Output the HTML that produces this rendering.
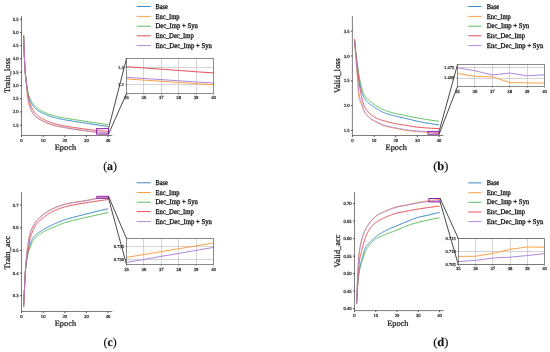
<!DOCTYPE html>
<html lang="en">
<head>
<meta charset="utf-8">
<title>Training and validation curves</title>
<style>
html,body{margin:0;padding:0;background:#fff;}
body{width:550px;height:352px;overflow:hidden;}
svg{display:block;}
text{font-family:"Liberation Serif",serif;fill:#111;stroke:#111;stroke-width:0.22px;text-rendering:geometricPrecision;}
.tk{font-size:4.7px;stroke-width:0.2px;fill:#222;stroke:#222;}
.ti{font-size:4.5px;}
.lab{font-size:8.2px;}
.lg{font-size:7.4px;stroke-width:0.3px;}
.cap{font-size:12px;stroke-width:0.15px;}
</style>
</head>
<body>
<svg width="550" height="352" viewBox="0 0 550 352">
<rect width="550" height="352" fill="#fff"/>
<g>
<polyline points="23.66,35.63 23.72,37.51 23.77,39.36 23.82,41.17 23.88,42.96 23.93,44.72 23.99,46.45 24.05,48.15 24.11,49.81 24.17,51.45 24.23,53.05 24.29,54.62 24.36,56.16 24.43,57.67 24.5,59.14 24.57,60.59 24.64,62 24.71,63.37 24.79,64.72 24.86,66.03 24.94,67.3 25.02,68.54 25.11,69.75 25.19,70.93 25.28,72.06 25.37,73.16 25.46,74.21 25.55,75.21 25.65,76.17 25.74,77.1 25.84,78 25.94,78.87 26.05,79.74 26.16,80.59 26.26,81.43 26.38,82.28 26.49,83.13 26.61,84 26.73,84.89 26.85,85.8 26.98,86.74 27.1,87.72 27.24,88.7 27.37,89.67 27.51,90.62 27.65,91.53 27.79,92.38 27.94,93.15 28.09,93.84 28.25,94.49 28.41,95.1 28.57,95.67 28.73,96.23 28.9,96.76 29.08,97.27 29.26,97.78 29.44,98.28 29.62,98.78 29.81,99.29 30.01,99.8 30.21,100.31 30.41,100.81 30.62,101.31 30.84,101.81 31.06,102.29 31.28,102.76 31.51,103.22 31.75,103.67 31.99,104.1 32.23,104.51 32.48,104.91 32.74,105.3 33.01,105.67 33.28,106.04 33.55,106.4 33.84,106.76 34.12,107.1 34.42,107.44 34.72,107.77 35.03,108.09 35.35,108.4 35.68,108.71 36.01,109.02 36.35,109.31 36.7,109.6 37.06,109.88 37.42,110.16 37.8,110.43 38.18,110.69 38.57,110.94 38.97,111.19 39.38,111.44 39.8,111.68 40.23,111.92 40.67,112.16 41.12,112.4 41.58,112.64 42.05,112.87 42.53,113.11 43.03,113.35 43.53,113.59 44.05,113.83 44.58,114.07 45.12,114.31 45.67,114.55 46.24,114.79 46.82,115.03 47.42,115.26 48.02,115.5 48.65,115.73 49.28,115.96 49.94,116.19 50.6,116.42 51.29,116.64 51.99,116.86 52.7,117.07 53.43,117.29 54.18,117.49 54.95,117.69 55.74,117.89 56.54,118.08 57.36,118.27 58.2,118.45 59.07,118.64 59.95,118.82 60.85,119 61.77,119.18 62.72,119.37 63.69,119.55 64.68,119.74 65.69,119.94 66.73,120.12 67.79,120.31 68.87,120.5 69.99,120.69 71.12,120.87 72.29,121.06 73.48,121.25 74.7,121.44 75.95,121.63 77.23,121.82 78.54,122.02 79.88,122.22 81.25,122.43 82.65,122.64 84.08,122.85 85.55,123.08 87.06,123.3 88.59,123.54 90.17,123.78 91.78,124.03 93.43,124.29 95.12,124.55 96.85,124.82 98.61,125.09 100.42,125.37 102.28,125.65 104.17,125.94 106.11,126.23 108.1,126.53" fill="none" stroke="#3585c5" stroke-width="0.95" stroke-linejoin="round"/>
<polyline points="23.66,35.1 23.72,37.09 23.77,39.05 23.82,40.98 23.88,42.87 23.93,44.73 23.99,46.55 24.05,48.35 24.11,50.1 24.17,51.83 24.23,53.52 24.29,55.18 24.36,56.8 24.43,58.39 24.5,59.94 24.57,61.46 24.64,62.95 24.71,64.4 24.79,65.81 24.86,67.19 24.94,68.54 25.02,69.85 25.11,71.12 25.19,72.36 25.28,73.53 25.37,74.63 25.46,75.66 25.55,76.65 25.65,77.61 25.74,78.54 25.84,79.47 25.94,80.4 26.05,81.34 26.16,82.32 26.26,83.34 26.38,84.42 26.49,85.57 26.61,86.85 26.73,88.27 26.85,89.78 26.98,91.34 27.1,92.91 27.24,94.44 27.37,95.89 27.51,97.22 27.65,98.37 27.79,99.32 27.94,100.16 28.09,100.95 28.25,101.72 28.41,102.45 28.57,103.16 28.73,103.83 28.9,104.48 29.08,105.11 29.26,105.71 29.44,106.29 29.62,106.84 29.81,107.38 30.01,107.9 30.21,108.41 30.41,108.9 30.62,109.37 30.84,109.84 31.06,110.29 31.28,110.73 31.51,111.17 31.75,111.6 31.99,112.03 32.23,112.46 32.48,112.88 32.74,113.29 33.01,113.69 33.28,114.07 33.55,114.45 33.84,114.82 34.12,115.17 34.42,115.52 34.72,115.85 35.03,116.18 35.35,116.5 35.68,116.81 36.01,117.11 36.35,117.4 36.7,117.68 37.06,117.96 37.42,118.22 37.8,118.47 38.18,118.72 38.57,118.96 38.97,119.19 39.38,119.42 39.8,119.64 40.23,119.86 40.67,120.09 41.12,120.31 41.58,120.53 42.05,120.75 42.53,120.98 43.03,121.22 43.53,121.46 44.05,121.7 44.58,121.95 45.12,122.21 45.67,122.46 46.24,122.72 46.82,122.97 47.42,123.23 48.02,123.48 48.65,123.73 49.28,123.98 49.94,124.23 50.6,124.47 51.29,124.7 51.99,124.93 52.7,125.15 53.43,125.37 54.18,125.57 54.95,125.77 55.74,125.96 56.54,126.14 57.36,126.32 58.2,126.49 59.07,126.66 59.95,126.83 60.85,127 61.77,127.17 62.72,127.34 63.69,127.51 64.68,127.69 65.69,127.88 66.73,128.07 67.79,128.26 68.87,128.45 69.99,128.64 71.12,128.83 72.29,129.03 73.48,129.22 74.7,129.42 75.95,129.62 77.23,129.81 78.54,130.01 79.88,130.2 81.25,130.4 82.65,130.59 84.08,130.78 85.55,130.97 87.06,131.16 88.59,131.35 90.17,131.54 91.78,131.72 93.43,131.91 95.12,132.09 96.85,132.26 98.61,132.43 100.42,132.59 102.28,132.75 104.17,132.91 106.11,133.06 108.1,133.2" fill="none" stroke="#ff9c3e" stroke-width="0.95" stroke-linejoin="round"/>
<polyline points="23.66,35.63 23.72,37.51 23.77,39.36 23.82,41.17 23.88,42.96 23.93,44.72 23.99,46.45 24.05,48.15 24.11,49.81 24.17,51.45 24.23,53.05 24.29,54.62 24.36,56.16 24.43,57.67 24.5,59.14 24.57,60.59 24.64,62 24.71,63.37 24.79,64.72 24.86,66.03 24.94,67.3 25.02,68.54 25.11,69.75 25.19,70.93 25.28,72.06 25.37,73.16 25.46,74.21 25.55,75.22 25.65,76.19 25.74,77.13 25.84,78.04 25.94,78.93 26.05,79.8 26.16,80.66 26.26,81.51 26.38,82.35 26.49,83.19 26.61,84.05 26.73,84.91 26.85,85.78 26.98,86.69 27.1,87.61 27.24,88.53 27.37,89.44 27.51,90.32 27.65,91.16 27.79,91.93 27.94,92.64 28.09,93.27 28.25,93.86 28.41,94.43 28.57,94.96 28.73,95.47 28.9,95.96 29.08,96.43 29.26,96.88 29.44,97.33 29.62,97.77 29.81,98.2 30.01,98.64 30.21,99.07 30.41,99.5 30.62,99.92 30.84,100.33 31.06,100.74 31.28,101.13 31.51,101.52 31.75,101.91 31.99,102.29 32.23,102.67 32.48,103.05 32.74,103.43 33.01,103.81 33.28,104.19 33.55,104.57 33.84,104.94 34.12,105.31 34.42,105.68 34.72,106.04 35.03,106.4 35.35,106.74 35.68,107.08 36.01,107.4 36.35,107.71 36.7,108.01 37.06,108.3 37.42,108.58 37.8,108.85 38.18,109.12 38.57,109.37 38.97,109.63 39.38,109.87 39.8,110.11 40.23,110.35 40.67,110.59 41.12,110.82 41.58,111.06 42.05,111.29 42.53,111.52 43.03,111.76 43.53,111.99 44.05,112.23 44.58,112.46 45.12,112.7 45.67,112.93 46.24,113.16 46.82,113.39 47.42,113.61 48.02,113.84 48.65,114.06 49.28,114.29 49.94,114.51 50.6,114.72 51.29,114.94 51.99,115.15 52.7,115.36 53.43,115.57 54.18,115.77 54.95,115.97 55.74,116.16 56.54,116.35 57.36,116.54 58.2,116.73 59.07,116.91 59.95,117.1 60.85,117.28 61.77,117.46 62.72,117.65 63.69,117.83 64.68,118.02 65.69,118.21 66.73,118.4 67.79,118.58 68.87,118.77 69.99,118.95 71.12,119.14 72.29,119.32 73.48,119.51 74.7,119.69 75.95,119.88 77.23,120.07 78.54,120.27 79.88,120.47 81.25,120.67 82.65,120.87 84.08,121.09 85.55,121.3 87.06,121.53 88.59,121.76 90.17,122 91.78,122.24 93.43,122.49 95.12,122.75 96.85,123.01 98.61,123.27 100.42,123.54 102.28,123.82 104.17,124.1 106.11,124.38 108.1,124.67" fill="none" stroke="#55bb55" stroke-width="0.95" stroke-linejoin="round"/>
<polyline points="23.66,36.43 23.72,38.28 23.77,40.11 23.82,41.9 23.88,43.67 23.93,45.41 23.99,47.11 24.05,48.79 24.11,50.44 24.17,52.05 24.23,53.64 24.29,55.2 24.36,56.72 24.43,58.22 24.5,59.68 24.57,61.11 24.64,62.51 24.71,63.89 24.79,65.22 24.86,66.53 24.94,67.81 25.02,69.05 25.11,70.26 25.19,71.44 25.28,72.59 25.37,73.7 25.46,74.75 25.55,75.75 25.65,76.72 25.74,77.65 25.84,78.55 25.94,79.43 26.05,80.31 26.16,81.17 26.26,82.05 26.38,82.93 26.49,83.83 26.61,84.75 26.73,85.71 26.85,86.7 26.98,87.71 27.1,88.74 27.24,89.77 27.37,90.8 27.51,91.81 27.65,92.81 27.79,93.76 27.94,94.68 28.09,95.55 28.25,96.39 28.41,97.2 28.57,97.98 28.73,98.71 28.9,99.4 29.08,100.07 29.26,100.72 29.44,101.37 29.62,101.99 29.81,102.61 30.01,103.21 30.21,103.8 30.41,104.37 30.62,104.94 30.84,105.49 31.06,106.03 31.28,106.57 31.51,107.09 31.75,107.6 31.99,108.1 32.23,108.59 32.48,109.07 32.74,109.55 33.01,110.02 33.28,110.48 33.55,110.94 33.84,111.39 34.12,111.82 34.42,112.25 34.72,112.67 35.03,113.07 35.35,113.47 35.68,113.85 36.01,114.21 36.35,114.57 36.7,114.91 37.06,115.23 37.42,115.55 37.8,115.85 38.18,116.14 38.57,116.42 38.97,116.7 39.38,116.97 39.8,117.23 40.23,117.49 40.67,117.75 41.12,118.01 41.58,118.26 42.05,118.52 42.53,118.78 43.03,119.04 43.53,119.3 44.05,119.57 44.58,119.84 45.12,120.1 45.67,120.37 46.24,120.63 46.82,120.89 47.42,121.16 48.02,121.42 48.65,121.67 49.28,121.93 49.94,122.18 50.6,122.43 51.29,122.67 51.99,122.91 52.7,123.14 53.43,123.37 54.18,123.59 54.95,123.81 55.74,124.02 56.54,124.23 57.36,124.43 58.2,124.63 59.07,124.82 59.95,125.02 60.85,125.21 61.77,125.4 62.72,125.59 63.69,125.78 64.68,125.97 65.69,126.16 66.73,126.35 67.79,126.54 68.87,126.73 69.99,126.92 71.12,127.11 72.29,127.29 73.48,127.48 74.7,127.66 75.95,127.85 77.23,128.03 78.54,128.21 79.88,128.39 81.25,128.58 82.65,128.76 84.08,128.94 85.55,129.12 87.06,129.3 88.59,129.48 90.17,129.66 91.78,129.84 93.43,130.02 95.12,130.19 96.85,130.37 98.61,130.54 100.42,130.71 102.28,130.88 104.17,131.04 106.11,131.21 108.1,131.37" fill="none" stroke="#e4474c" stroke-width="0.95" stroke-linejoin="round"/>
<polyline points="23.66,37.75 23.72,39.59 23.77,41.4 23.82,43.18 23.88,44.93 23.93,46.65 23.99,48.34 24.05,50 24.11,51.63 24.17,53.23 24.23,54.8 24.29,56.34 24.36,57.85 24.43,59.32 24.5,60.77 24.57,62.19 24.64,63.57 24.71,64.92 24.79,66.24 24.86,67.53 24.94,68.78 25.02,70 25.11,71.19 25.19,72.35 25.28,73.45 25.37,74.49 25.46,75.48 25.55,76.44 25.65,77.35 25.74,78.25 25.84,79.13 25.94,80 26.05,80.88 26.16,81.77 26.26,82.68 26.38,83.62 26.49,84.6 26.61,85.63 26.73,86.73 26.85,87.9 26.98,89.13 27.1,90.38 27.24,91.65 27.37,92.92 27.51,94.17 27.65,95.37 27.79,96.52 27.94,97.59 28.09,98.56 28.25,99.42 28.41,100.23 28.57,101.02 28.73,101.78 28.9,102.52 29.08,103.23 29.26,103.93 29.44,104.61 29.62,105.26 29.81,105.9 30.01,106.51 30.21,107.11 30.41,107.69 30.62,108.26 30.84,108.8 31.06,109.34 31.28,109.85 31.51,110.35 31.75,110.84 31.99,111.32 32.23,111.78 32.48,112.23 32.74,112.67 33.01,113.09 33.28,113.5 33.55,113.9 33.84,114.29 34.12,114.66 34.42,115.03 34.72,115.38 35.03,115.72 35.35,116.05 35.68,116.38 36.01,116.69 36.35,116.99 36.7,117.29 37.06,117.57 37.42,117.84 37.8,118.1 38.18,118.35 38.57,118.6 38.97,118.84 39.38,119.07 39.8,119.3 40.23,119.52 40.67,119.75 41.12,119.97 41.58,120.2 42.05,120.43 42.53,120.66 43.03,120.9 43.53,121.14 44.05,121.39 44.58,121.65 45.12,121.9 45.67,122.16 46.24,122.42 46.82,122.68 47.42,122.94 48.02,123.2 48.65,123.45 49.28,123.7 49.94,123.95 50.6,124.19 51.29,124.43 51.99,124.66 52.7,124.89 53.43,125.1 54.18,125.31 54.95,125.51 55.74,125.7 56.54,125.88 57.36,126.05 58.2,126.23 59.07,126.4 59.95,126.56 60.85,126.73 61.77,126.9 62.72,127.07 63.69,127.25 64.68,127.43 65.69,127.61 66.73,127.8 67.79,127.99 68.87,128.18 69.99,128.37 71.12,128.57 72.29,128.76 73.48,128.96 74.7,129.15 75.95,129.35 77.23,129.54 78.54,129.74 79.88,129.93 81.25,130.13 82.65,130.32 84.08,130.51 85.55,130.7 87.06,130.89 88.59,131.09 90.17,131.28 91.78,131.47 93.43,131.66 95.12,131.85 96.85,132.02 98.61,132.19 100.42,132.35 102.28,132.51 104.17,132.66 106.11,132.8 108.1,132.94" fill="none" stroke="#a982da" stroke-width="0.95" stroke-linejoin="round"/>
<path d="M21.5 16.1V135.5H112.3" fill="none" stroke="#262626" stroke-width="0.6"/>
<path d="M21.5 125.2h-1.5" stroke="#262626" stroke-width="0.8"/>
<text x="18.6" y="126.7" text-anchor="end" class="tk">1.5</text>
<path d="M21.5 111.95h-1.5" stroke="#262626" stroke-width="0.8"/>
<text x="18.6" y="113.45" text-anchor="end" class="tk">2.0</text>
<path d="M21.5 98.7h-1.5" stroke="#262626" stroke-width="0.8"/>
<text x="18.6" y="100.2" text-anchor="end" class="tk">2.5</text>
<path d="M21.5 85.45h-1.5" stroke="#262626" stroke-width="0.8"/>
<text x="18.6" y="86.95" text-anchor="end" class="tk">3.0</text>
<path d="M21.5 72.2h-1.5" stroke="#262626" stroke-width="0.8"/>
<text x="18.6" y="73.7" text-anchor="end" class="tk">3.5</text>
<path d="M21.5 58.95h-1.5" stroke="#262626" stroke-width="0.8"/>
<text x="18.6" y="60.45" text-anchor="end" class="tk">4.0</text>
<path d="M21.5 45.7h-1.5" stroke="#262626" stroke-width="0.8"/>
<text x="18.6" y="47.2" text-anchor="end" class="tk">4.5</text>
<path d="M21.5 32.45h-1.5" stroke="#262626" stroke-width="0.8"/>
<text x="18.6" y="33.95" text-anchor="end" class="tk">5.0</text>
<path d="M21.5 19.2h-1.5" stroke="#262626" stroke-width="0.8"/>
<text x="18.6" y="20.7" text-anchor="end" class="tk">5.5</text>
<path d="M21.5 135.5v1.5" stroke="#262626" stroke-width="0.8"/>
<text x="21.5" y="141.9" text-anchor="middle" class="tk">0</text>
<path d="M43.15 135.5v1.5" stroke="#262626" stroke-width="0.8"/>
<text x="43.15" y="141.9" text-anchor="middle" class="tk">10</text>
<path d="M64.8 135.5v1.5" stroke="#262626" stroke-width="0.8"/>
<text x="64.8" y="141.9" text-anchor="middle" class="tk">20</text>
<path d="M86.45 135.5v1.5" stroke="#262626" stroke-width="0.8"/>
<text x="86.45" y="141.9" text-anchor="middle" class="tk">30</text>
<path d="M108.1 135.5v1.5" stroke="#262626" stroke-width="0.8"/>
<text x="108.1" y="141.9" text-anchor="middle" class="tk">40</text>
<text x="65.4" y="150" text-anchor="middle" class="lab" textLength="21.3" lengthAdjust="spacingAndGlyphs">Epoch</text>
<text transform="translate(9.7 75.6) rotate(-90)" text-anchor="middle" class="lab" textLength="35" lengthAdjust="spacingAndGlyphs">Train_loss</text>
<rect x="96.6" y="128.6" width="11.9" height="5.5" fill="#f4b8e8" fill-opacity="0.25" stroke="#8a1aa0" stroke-width="0.95"/>
<path d="M108.5 128.6L126.5 58.5M108.5 134.1L126.5 93.5" stroke="#1c1c1c" stroke-width="0.8" fill="none"/>
<rect x="126.5" y="58.5" width="87" height="35" fill="#fff"/>
<path d="M143.5 58.5V93.5" stroke="#bcbcbc" stroke-width="0.65"/>
<path d="M161.5 58.5V93.5" stroke="#bcbcbc" stroke-width="0.65"/>
<path d="M178.5 58.5V93.5" stroke="#bcbcbc" stroke-width="0.65"/>
<path d="M196.5 58.5V93.5" stroke="#bcbcbc" stroke-width="0.65"/>
<path d="M126.5 67.5H213.5" stroke="#bcbcbc" stroke-width="0.65"/>
<path d="M126.5 84.5H213.5" stroke="#bcbcbc" stroke-width="0.65"/>
<clipPath id="clipa"><rect x="126.5" y="58.5" width="87" height="35"/></clipPath>
<polyline clip-path="url(#clipa)" points="126.5,78.93 143.9,80.12 161.3,81.24 178.7,82.43 196.1,83.54 213.5,84.74" fill="none" stroke="#ff9c3e" stroke-width="0.95" stroke-linejoin="round"/>
<polyline clip-path="url(#clipa)" points="126.5,66.7 143.9,67.98 161.3,69.18 178.7,70.46 196.1,71.75 213.5,72.94" fill="none" stroke="#e4474c" stroke-width="0.95" stroke-linejoin="round"/>
<polyline clip-path="url(#clipa)" points="126.5,77.39 143.9,78.5 161.3,79.61 178.7,80.81 196.1,81.92 213.5,83.03" fill="none" stroke="#a982da" stroke-width="0.95" stroke-linejoin="round"/>
<rect x="126.5" y="58.5" width="87" height="35" fill="none" stroke="#2e2e2e" stroke-width="0.55"/>
<path d="M126.5 67.3h-1.2" stroke="#262626" stroke-width="0.5"/>
<text x="123.7" y="68.6" text-anchor="end" class="tk ti">1.3</text>
<path d="M126.5 84.4h-1.2" stroke="#262626" stroke-width="0.5"/>
<text x="123.7" y="85.7" text-anchor="end" class="tk ti">1.2</text>
<path d="M126.5 93.5v1.2" stroke="#262626" stroke-width="0.5"/>
<text x="126.5" y="98.6" text-anchor="middle" class="tk">35</text>
<path d="M143.9 93.5v1.2" stroke="#262626" stroke-width="0.5"/>
<text x="143.9" y="98.6" text-anchor="middle" class="tk">36</text>
<path d="M161.3 93.5v1.2" stroke="#262626" stroke-width="0.5"/>
<text x="161.3" y="98.6" text-anchor="middle" class="tk">37</text>
<path d="M178.7 93.5v1.2" stroke="#262626" stroke-width="0.5"/>
<text x="178.7" y="98.6" text-anchor="middle" class="tk">38</text>
<path d="M196.1 93.5v1.2" stroke="#262626" stroke-width="0.5"/>
<text x="196.1" y="98.6" text-anchor="middle" class="tk">39</text>
<path d="M213.5 93.5v1.2" stroke="#262626" stroke-width="0.5"/>
<text x="213.5" y="98.6" text-anchor="middle" class="tk">40</text>
<path d="M136.7 6.5H150.8" stroke="#3585c5" stroke-width="0.95"/>
<text x="155.5" y="8.6" class="lg" textLength="12.4" lengthAdjust="spacingAndGlyphs">Base</text>
<path d="M136.7 16.4H150.8" stroke="#ff9c3e" stroke-width="0.95"/>
<text x="155.5" y="18.5" class="lg" textLength="24" lengthAdjust="spacingAndGlyphs">Enc_Imp</text>
<path d="M136.7 26.2H150.8" stroke="#55bb55" stroke-width="0.95"/>
<text x="155.5" y="28.3" class="lg" textLength="42.4" lengthAdjust="spacingAndGlyphs">Dec_Imp + Syn</text>
<path d="M136.7 35.8H150.8" stroke="#e4474c" stroke-width="0.95"/>
<text x="155.5" y="37.9" class="lg" textLength="38.3" lengthAdjust="spacingAndGlyphs">Enc_Dec_Imp</text>
<path d="M136.7 45.6H150.8" stroke="#a982da" stroke-width="0.95"/>
<text x="155.5" y="47.7" class="lg" textLength="56.5" lengthAdjust="spacingAndGlyphs">Enc_Dec_Imp + Syn</text>
<text x="103.15" y="169.9" class="cap" textLength="13.9" lengthAdjust="spacingAndGlyphs">(<tspan font-weight="bold">a</tspan>)</text>
</g>
<g>
<polyline points="354.57,39.63 354.62,40.22 354.67,40.82 354.72,41.42 354.78,42.04 354.83,42.67 354.89,43.31 354.95,43.95 355.01,44.61 355.07,45.28 355.13,45.95 355.2,46.64 355.26,47.33 355.33,48.03 355.4,48.74 355.47,49.46 355.54,50.18 355.61,50.91 355.69,51.65 355.77,52.4 355.85,53.16 355.93,53.92 356.01,54.69 356.09,55.46 356.18,56.25 356.27,57.03 356.36,57.83 356.45,58.63 356.55,59.43 356.65,60.24 356.75,61.06 356.85,61.9 356.95,62.76 357.06,63.64 357.17,64.54 357.28,65.46 357.4,66.4 357.51,67.35 357.63,68.32 357.76,69.29 357.88,70.27 358.01,71.25 358.14,72.24 358.28,73.23 358.41,74.21 358.56,75.2 358.7,76.17 358.85,77.14 359,78.1 359.15,79.04 359.31,79.97 359.48,80.88 359.64,81.78 359.81,82.7 359.98,83.62 360.16,84.56 360.35,85.51 360.53,86.45 360.72,87.39 360.92,88.31 361.12,89.21 361.32,90.1 361.53,90.95 361.75,91.77 361.97,92.55 362.19,93.28 362.42,93.97 362.66,94.59 362.9,95.17 363.14,95.73 363.39,96.26 363.65,96.77 363.92,97.26 364.19,97.73 364.46,98.19 364.75,98.63 365.04,99.06 365.33,99.48 365.64,99.88 365.95,100.28 366.27,100.67 366.59,101.05 366.92,101.43 367.26,101.8 367.61,102.18 367.97,102.54 368.34,102.89 368.71,103.23 369.09,103.56 369.48,103.89 369.89,104.2 370.3,104.52 370.72,104.82 371.15,105.13 371.59,105.44 372.04,105.74 372.5,106.05 372.97,106.36 373.45,106.68 373.95,107.01 374.45,107.34 374.97,107.68 375.5,108.03 376.04,108.38 376.6,108.73 377.16,109.09 377.75,109.45 378.34,109.81 378.95,110.17 379.57,110.52 380.21,110.87 380.86,111.22 381.53,111.56 382.21,111.89 382.91,112.21 383.63,112.53 384.36,112.83 385.11,113.12 385.88,113.4 386.67,113.67 387.47,113.93 388.3,114.18 389.14,114.43 390,114.67 390.88,114.91 391.79,115.15 392.71,115.39 393.66,115.64 394.62,115.88 395.62,116.13 396.63,116.39 397.67,116.64 398.73,116.88 399.82,117.13 400.93,117.38 402.07,117.63 403.24,117.89 404.43,118.16 405.65,118.43 406.9,118.72 408.18,119.03 409.49,119.35 410.83,119.68 412.2,120.02 413.6,120.36 415.04,120.7 416.51,121.03 418.02,121.35 419.56,121.66 421.13,121.97 422.75,122.28 424.4,122.59 426.09,122.89 427.82,123.19 429.59,123.49 431.4,123.79 433.25,124.08 435.15,124.37 437.09,124.66 439.08,124.94" fill="none" stroke="#3585c5" stroke-width="0.95" stroke-linejoin="round"/>
<polyline points="354.57,41.12 354.62,41.69 354.67,42.29 354.72,42.92 354.78,43.58 354.83,44.27 354.89,44.99 354.95,45.73 355.01,46.51 355.07,47.31 355.13,48.13 355.2,48.98 355.26,49.85 355.33,50.75 355.4,51.67 355.47,52.6 355.54,53.56 355.61,54.54 355.69,55.53 355.77,56.54 355.85,57.57 355.93,58.61 356.01,59.67 356.09,60.74 356.18,61.82 356.27,62.92 356.36,64.03 356.45,65.14 356.55,66.27 356.65,67.4 356.75,68.54 356.85,69.69 356.95,70.87 357.06,72.08 357.17,73.35 357.28,74.68 357.4,76.08 357.51,77.58 357.63,79.18 357.76,80.9 357.88,82.85 358.01,85.53 358.14,88.53 358.28,91.35 358.41,93.48 358.56,94.66 358.7,95.66 358.85,96.56 359,97.38 359.15,98.13 359.31,98.81 359.48,99.43 359.64,100 359.81,100.52 359.98,101.02 360.16,101.48 360.35,101.93 360.53,102.37 360.72,102.8 360.92,103.25 361.12,103.7 361.32,104.18 361.53,104.69 361.75,105.24 361.97,105.83 362.19,106.47 362.42,107.12 362.66,107.79 362.9,108.46 363.14,109.14 363.39,109.8 363.65,110.44 363.92,111.06 364.19,111.65 364.46,112.19 364.75,112.68 365.04,113.13 365.33,113.56 365.64,113.95 365.95,114.33 366.27,114.69 366.59,115.04 366.92,115.38 367.26,115.72 367.61,116.06 367.97,116.4 368.34,116.75 368.71,117.11 369.09,117.49 369.48,117.89 369.89,118.28 370.3,118.67 370.72,119.05 371.15,119.4 371.59,119.73 372.04,120.01 372.5,120.26 372.97,120.48 373.45,120.69 373.95,120.92 374.45,121.17 374.97,121.43 375.5,121.71 376.04,121.99 376.6,122.28 377.16,122.58 377.75,122.89 378.34,123.19 378.95,123.5 379.57,123.8 380.21,124.1 380.86,124.4 381.53,124.69 382.21,124.98 382.91,125.25 383.63,125.51 384.36,125.76 385.11,126 385.88,126.22 386.67,126.44 387.47,126.65 388.3,126.85 389.14,127.04 390,127.24 390.88,127.43 391.79,127.61 392.71,127.8 393.66,128 394.62,128.19 395.62,128.39 396.63,128.6 397.67,128.81 398.73,129.02 399.82,129.24 400.93,129.45 402.07,129.66 403.24,129.87 404.43,130.07 405.65,130.26 406.9,130.45 408.18,130.62 409.49,130.8 410.83,130.96 412.2,131.13 413.6,131.28 415.04,131.43 416.51,131.56 418.02,131.69 419.56,131.79 421.13,131.87 422.75,131.95 424.4,132.03 426.09,132.14 427.82,132.28 429.59,132.58 431.4,132.71 433.25,132.9 435.15,133.44 437.09,133.48 439.08,133.5" fill="none" stroke="#ff9c3e" stroke-width="0.95" stroke-linejoin="round"/>
<polyline points="354.57,39.63 354.62,40.17 354.67,40.71 354.72,41.27 354.78,41.83 354.83,42.41 354.89,43 354.95,43.59 355.01,44.2 355.07,44.82 355.13,45.44 355.2,46.08 355.26,46.72 355.33,47.37 355.4,48.03 355.47,48.7 355.54,49.38 355.61,50.07 355.69,50.76 355.77,51.46 355.85,52.16 355.93,52.88 356.01,53.6 356.09,54.32 356.18,55.06 356.27,55.79 356.36,56.54 356.45,57.29 356.55,58.04 356.65,58.8 356.75,59.57 356.85,60.35 356.95,61.16 357.06,62 357.17,62.85 357.28,63.73 357.4,64.61 357.51,65.51 357.63,66.42 357.76,67.34 357.88,68.26 358.01,69.18 358.14,70.1 358.28,71.01 358.41,71.91 358.56,72.81 358.7,73.69 358.85,74.55 359,75.39 359.15,76.22 359.31,77.05 359.48,77.87 359.64,78.68 359.81,79.49 359.98,80.3 360.16,81.12 360.35,81.96 360.53,82.82 360.72,83.71 360.92,84.62 361.12,85.53 361.32,86.44 361.53,87.35 361.75,88.23 361.97,89.1 362.19,89.93 362.42,90.71 362.66,91.45 362.9,92.13 363.14,92.74 363.39,93.29 363.65,93.8 363.92,94.29 364.19,94.74 364.46,95.18 364.75,95.59 365.04,95.99 365.33,96.38 365.64,96.75 365.95,97.12 366.27,97.48 366.59,97.84 366.92,98.21 367.26,98.58 367.61,98.95 367.97,99.33 368.34,99.7 368.71,100.07 369.09,100.43 369.48,100.79 369.89,101.15 370.3,101.5 370.72,101.85 371.15,102.2 371.59,102.54 372.04,102.89 372.5,103.24 372.97,103.58 373.45,103.93 373.95,104.27 374.45,104.62 374.97,104.97 375.5,105.33 376.04,105.68 376.6,106.04 377.16,106.4 377.75,106.75 378.34,107.11 378.95,107.46 379.57,107.81 380.21,108.16 380.86,108.5 381.53,108.83 382.21,109.16 382.91,109.48 383.63,109.79 384.36,110.1 385.11,110.39 385.88,110.68 386.67,110.96 387.47,111.23 388.3,111.5 389.14,111.76 390,112.02 390.88,112.27 391.79,112.52 392.71,112.77 393.66,113.02 394.62,113.26 395.62,113.51 396.63,113.75 397.67,113.98 398.73,114.21 399.82,114.44 400.93,114.66 402.07,114.88 403.24,115.11 404.43,115.35 405.65,115.58 406.9,115.83 408.18,116.09 409.49,116.36 410.83,116.63 412.2,116.9 413.6,117.18 415.04,117.46 416.51,117.74 418.02,118.01 419.56,118.28 421.13,118.56 422.75,118.83 424.4,119.11 426.09,119.38 427.82,119.66 429.59,119.94 431.4,120.21 433.25,120.49 435.15,120.77 437.09,121.04 439.08,121.32" fill="none" stroke="#55bb55" stroke-width="0.95" stroke-linejoin="round"/>
<polyline points="354.57,39.14 354.62,39.75 354.67,40.38 354.72,41.03 354.78,41.69 354.83,42.36 354.89,43.04 354.95,43.74 355.01,44.45 355.07,45.17 355.13,45.9 355.2,46.65 355.26,47.4 355.33,48.17 355.4,48.95 355.47,49.73 355.54,50.53 355.61,51.34 355.69,52.15 355.77,52.98 355.85,53.81 355.93,54.65 356.01,55.5 356.09,56.36 356.18,57.22 356.27,58.1 356.36,58.98 356.45,59.86 356.55,60.76 356.65,61.66 356.75,62.56 356.85,63.49 356.95,64.44 357.06,65.41 357.17,66.41 357.28,67.43 357.4,68.47 357.51,69.52 357.63,70.59 357.76,71.67 357.88,72.76 358.01,73.85 358.14,74.95 358.28,76.05 358.41,77.15 358.56,78.24 358.7,79.33 358.85,80.42 359,81.5 359.15,82.61 359.31,83.73 359.48,84.87 359.64,86.01 359.81,87.15 359.98,88.29 360.16,89.41 360.35,90.52 360.53,91.6 360.72,92.66 360.92,93.68 361.12,94.67 361.32,95.66 361.53,96.64 361.75,97.63 361.97,98.6 362.19,99.55 362.42,100.48 362.66,101.37 362.9,102.24 363.14,103.06 363.39,103.84 363.65,104.56 363.92,105.23 364.19,105.86 364.46,106.45 364.75,107.03 365.04,107.57 365.33,108.1 365.64,108.61 365.95,109.1 366.27,109.57 366.59,110.03 366.92,110.47 367.26,110.91 367.61,111.34 367.97,111.76 368.34,112.18 368.71,112.58 369.09,112.96 369.48,113.34 369.89,113.7 370.3,114.06 370.72,114.41 371.15,114.75 371.59,115.09 372.04,115.42 372.5,115.75 372.97,116.08 373.45,116.4 373.95,116.71 374.45,117.02 374.97,117.32 375.5,117.61 376.04,117.89 376.6,118.16 377.16,118.42 377.75,118.67 378.34,118.92 378.95,119.15 379.57,119.38 380.21,119.61 380.86,119.83 381.53,120.05 382.21,120.27 382.91,120.48 383.63,120.7 384.36,120.92 385.11,121.14 385.88,121.36 386.67,121.58 387.47,121.8 388.3,122.01 389.14,122.23 390,122.45 390.88,122.66 391.79,122.87 392.71,123.08 393.66,123.28 394.62,123.48 395.62,123.68 396.63,123.87 397.67,124.05 398.73,124.23 399.82,124.41 400.93,124.58 402.07,124.75 403.24,124.93 404.43,125.11 405.65,125.3 406.9,125.49 408.18,125.7 409.49,125.93 410.83,126.17 412.2,126.4 413.6,126.63 415.04,126.84 416.51,127.03 418.02,127.19 419.56,127.34 421.13,127.49 422.75,127.63 424.4,127.77 426.09,127.9 427.82,128.02 429.59,128.14 431.4,128.24 433.25,128.34 435.15,128.43 437.09,128.5 439.08,128.56" fill="none" stroke="#e4474c" stroke-width="0.95" stroke-linejoin="round"/>
<polyline points="354.57,41.12 354.62,41.56 354.67,42.05 354.72,42.57 354.78,43.13 354.83,43.73 354.89,44.36 354.95,45.03 355.01,45.73 355.07,46.46 355.13,47.22 355.2,48.01 355.26,48.83 355.33,49.67 355.4,50.54 355.47,51.44 355.54,52.36 355.61,53.3 355.69,54.26 355.77,55.25 355.85,56.25 355.93,57.27 356.01,58.31 356.09,59.36 356.18,60.42 356.27,61.5 356.36,62.59 356.45,63.69 356.55,64.81 356.65,65.92 356.75,67.05 356.85,68.26 356.95,69.58 357.06,70.98 357.17,72.45 357.28,73.97 357.4,75.51 357.51,77.06 357.63,78.59 357.76,80.08 357.88,81.54 358.01,83.05 358.14,84.61 358.28,86.19 358.41,87.75 358.56,89.26 358.7,90.7 358.85,92.02 359,93.21 359.15,94.22 359.31,95.12 359.48,95.96 359.64,96.75 359.81,97.49 359.98,98.19 360.16,98.86 360.35,99.5 360.53,100.11 360.72,100.72 360.92,101.32 361.12,101.93 361.32,102.54 361.53,103.17 361.75,103.82 361.97,104.51 362.19,105.23 362.42,105.98 362.66,106.74 362.9,107.52 363.14,108.29 363.39,109.05 363.65,109.78 363.92,110.48 364.19,111.13 364.46,111.72 364.75,112.24 365.04,112.7 365.33,113.13 365.64,113.53 365.95,113.9 366.27,114.26 366.59,114.6 366.92,114.93 367.26,115.26 367.61,115.58 367.97,115.92 368.34,116.26 368.71,116.62 369.09,117 369.48,117.39 369.89,117.78 370.3,118.17 370.72,118.55 371.15,118.91 371.59,119.23 372.04,119.52 372.5,119.76 372.97,119.98 373.45,120.19 373.95,120.42 374.45,120.67 374.97,120.94 375.5,121.21 376.04,121.5 376.6,121.79 377.16,122.09 377.75,122.39 378.34,122.69 378.95,123 379.57,123.3 380.21,123.61 380.86,123.9 381.53,124.2 382.21,124.48 382.91,124.75 383.63,125.02 384.36,125.27 385.11,125.5 385.88,125.73 386.67,125.95 387.47,126.15 388.3,126.36 389.14,126.55 390,126.75 390.88,126.94 391.79,127.13 392.71,127.32 393.66,127.51 394.62,127.7 395.62,127.9 396.63,128.09 397.67,128.3 398.73,128.5 399.82,128.7 400.93,128.9 402.07,129.1 403.24,129.29 404.43,129.48 405.65,129.67 406.9,129.85 408.18,130.03 409.49,130.22 410.83,130.4 412.2,130.57 413.6,130.74 415.04,130.89 416.51,131.02 418.02,131.14 419.56,131.22 421.13,131.28 422.75,131.34 424.4,131.4 426.09,131.49 427.82,131.61 429.59,131.84 431.4,132.28 433.25,132.46 435.15,132.3 437.09,132.61 439.08,132.49" fill="none" stroke="#a982da" stroke-width="0.95" stroke-linejoin="round"/>
<path d="M352.4 16.1V135.5H443.28" fill="none" stroke="#262626" stroke-width="0.6"/>
<path d="M352.4 130.4h-1.5" stroke="#262626" stroke-width="0.8"/>
<text x="349.5" y="131.9" text-anchor="end" class="tk">1.5</text>
<path d="M352.4 105.6h-1.5" stroke="#262626" stroke-width="0.8"/>
<text x="349.5" y="107.1" text-anchor="end" class="tk">2.0</text>
<path d="M352.4 80.8h-1.5" stroke="#262626" stroke-width="0.8"/>
<text x="349.5" y="82.3" text-anchor="end" class="tk">2.5</text>
<path d="M352.4 56h-1.5" stroke="#262626" stroke-width="0.8"/>
<text x="349.5" y="57.5" text-anchor="end" class="tk">3.0</text>
<path d="M352.4 31.2h-1.5" stroke="#262626" stroke-width="0.8"/>
<text x="349.5" y="32.7" text-anchor="end" class="tk">3.5</text>
<path d="M352.4 135.5v1.5" stroke="#262626" stroke-width="0.8"/>
<text x="352.4" y="141.9" text-anchor="middle" class="tk">0</text>
<path d="M374.07 135.5v1.5" stroke="#262626" stroke-width="0.8"/>
<text x="374.07" y="141.9" text-anchor="middle" class="tk">10</text>
<path d="M395.74 135.5v1.5" stroke="#262626" stroke-width="0.8"/>
<text x="395.74" y="141.9" text-anchor="middle" class="tk">20</text>
<path d="M417.41 135.5v1.5" stroke="#262626" stroke-width="0.8"/>
<text x="417.41" y="141.9" text-anchor="middle" class="tk">30</text>
<path d="M439.08 135.5v1.5" stroke="#262626" stroke-width="0.8"/>
<text x="439.08" y="141.9" text-anchor="middle" class="tk">40</text>
<text x="396.2" y="150" text-anchor="middle" class="lab" textLength="21.3" lengthAdjust="spacingAndGlyphs">Epoch</text>
<text transform="translate(339.9 75.6) rotate(-90)" text-anchor="middle" class="lab" textLength="35" lengthAdjust="spacingAndGlyphs">Valid_loss</text>
<rect x="428" y="131.4" width="11.1" height="2.8" fill="#f4b8e8" fill-opacity="0.25" stroke="#8a1aa0" stroke-width="0.95"/>
<path d="M439.1 131.4L457.5 64.6M439.1 134.2L457.5 86.5" stroke="#1c1c1c" stroke-width="0.8" fill="none"/>
<rect x="457.5" y="64.6" width="87" height="21.9" fill="#fff"/>
<path d="M474.5 64.6V86.5" stroke="#bcbcbc" stroke-width="0.65"/>
<path d="M492.5 64.6V86.5" stroke="#bcbcbc" stroke-width="0.65"/>
<path d="M509.5 64.6V86.5" stroke="#bcbcbc" stroke-width="0.65"/>
<path d="M527.5 64.6V86.5" stroke="#bcbcbc" stroke-width="0.65"/>
<path d="M457.5 67.5H544.5" stroke="#bcbcbc" stroke-width="0.65"/>
<path d="M457.5 78.5H544.5" stroke="#bcbcbc" stroke-width="0.65"/>
<clipPath id="clipb"><rect x="457.5" y="64.6" width="87" height="21.9"/></clipPath>
<polyline clip-path="url(#clipb)" points="457.5,73.39 474.9,76.41 492.3,76.78 509.7,82.49 527.1,82.9 544.5,83.1" fill="none" stroke="#ff9c3e" stroke-width="0.95" stroke-linejoin="round"/>
<polyline clip-path="url(#clipb)" points="457.5,67.8 474.9,70.78 492.3,74.98 509.7,72.98 527.1,75.8 544.5,74.82" fill="none" stroke="#a982da" stroke-width="0.95" stroke-linejoin="round"/>
<rect x="457.5" y="64.6" width="87" height="21.9" fill="none" stroke="#2e2e2e" stroke-width="0.55"/>
<path d="M457.5 67.8h-1.2" stroke="#262626" stroke-width="0.5"/>
<text x="454.2" y="69.1" text-anchor="end" class="tk ti">1.475</text>
<path d="M457.5 78h-1.2" stroke="#262626" stroke-width="0.5"/>
<text x="454.2" y="79.3" text-anchor="end" class="tk ti">1.450</text>
<path d="M457.5 86.5v1.2" stroke="#262626" stroke-width="0.5"/>
<text x="457.5" y="92.8" text-anchor="middle" class="tk">35</text>
<path d="M474.9 86.5v1.2" stroke="#262626" stroke-width="0.5"/>
<text x="474.9" y="92.8" text-anchor="middle" class="tk">36</text>
<path d="M492.3 86.5v1.2" stroke="#262626" stroke-width="0.5"/>
<text x="492.3" y="92.8" text-anchor="middle" class="tk">37</text>
<path d="M509.7 86.5v1.2" stroke="#262626" stroke-width="0.5"/>
<text x="509.7" y="92.8" text-anchor="middle" class="tk">38</text>
<path d="M527.1 86.5v1.2" stroke="#262626" stroke-width="0.5"/>
<text x="527.1" y="92.8" text-anchor="middle" class="tk">39</text>
<path d="M544.5 86.5v1.2" stroke="#262626" stroke-width="0.5"/>
<text x="544.5" y="92.8" text-anchor="middle" class="tk">40</text>
<path d="M468.3 6.5H481.4" stroke="#3585c5" stroke-width="0.95"/>
<text x="486.8" y="8.6" class="lg" textLength="12.4" lengthAdjust="spacingAndGlyphs">Base</text>
<path d="M468.3 16.4H481.4" stroke="#ff9c3e" stroke-width="0.95"/>
<text x="486.8" y="18.5" class="lg" textLength="24" lengthAdjust="spacingAndGlyphs">Enc_Imp</text>
<path d="M468.3 26.2H481.4" stroke="#55bb55" stroke-width="0.95"/>
<text x="486.8" y="28.3" class="lg" textLength="42.4" lengthAdjust="spacingAndGlyphs">Dec_Imp + Syn</text>
<path d="M468.3 35.8H481.4" stroke="#e4474c" stroke-width="0.95"/>
<text x="486.8" y="37.9" class="lg" textLength="38.3" lengthAdjust="spacingAndGlyphs">Enc_Dec_Imp</text>
<path d="M468.3 45.6H481.4" stroke="#a982da" stroke-width="0.95"/>
<text x="486.8" y="47.7" class="lg" textLength="56.5" lengthAdjust="spacingAndGlyphs">Enc_Dec_Imp + Syn</text>
<text x="433.15" y="169.9" class="cap" textLength="15.3" lengthAdjust="spacingAndGlyphs">(<tspan font-weight="bold">b</tspan>)</text>
</g>
<g>
<polyline points="23.66,304.76 23.72,303.79 23.77,302.78 23.82,301.74 23.88,300.66 23.93,299.56 23.99,298.42 24.05,297.26 24.11,296.07 24.17,294.85 24.23,293.61 24.29,292.35 24.36,291.07 24.43,289.77 24.5,288.44 24.57,287.09 24.64,285.63 24.71,284.07 24.79,282.45 24.86,280.8 24.94,279.15 25.02,277.54 25.11,275.98 25.19,274.53 25.28,273.2 25.37,271.98 25.46,270.82 25.55,269.7 25.65,268.62 25.74,267.58 25.84,266.57 25.94,265.6 26.05,264.66 26.16,263.74 26.26,262.84 26.38,261.97 26.49,261.12 26.61,260.3 26.73,259.49 26.85,258.7 26.98,257.93 27.1,257.18 27.24,256.44 27.37,255.71 27.51,255 27.65,254.29 27.79,253.6 27.94,252.91 28.09,252.23 28.25,251.56 28.41,250.92 28.57,250.28 28.73,249.66 28.9,249.05 29.08,248.44 29.26,247.84 29.44,247.24 29.62,246.64 29.81,246.03 30.01,245.43 30.21,244.81 30.41,244.17 30.62,243.52 30.84,242.85 31.06,242.19 31.28,241.53 31.51,240.9 31.75,240.3 31.99,239.75 32.23,239.25 32.48,238.8 32.74,238.37 33.01,237.97 33.28,237.59 33.55,237.22 33.84,236.87 34.12,236.53 34.42,236.21 34.72,235.89 35.03,235.58 35.35,235.27 35.68,234.97 36.01,234.66 36.35,234.36 36.7,234.05 37.06,233.75 37.42,233.46 37.8,233.17 38.18,232.89 38.57,232.61 38.97,232.34 39.38,232.07 39.8,231.81 40.23,231.54 40.67,231.27 41.12,231 41.58,230.72 42.05,230.44 42.53,230.16 43.03,229.86 43.53,229.56 44.05,229.26 44.58,228.95 45.12,228.64 45.67,228.32 46.24,228 46.82,227.68 47.42,227.36 48.02,227.03 48.65,226.7 49.28,226.37 49.94,226.04 50.6,225.71 51.29,225.37 51.99,225.04 52.7,224.7 53.43,224.37 54.18,224.03 54.95,223.69 55.74,223.35 56.54,223.01 57.36,222.66 58.2,222.31 59.07,221.96 59.95,221.61 60.85,221.26 61.77,220.9 62.72,220.56 63.69,220.21 64.68,219.86 65.69,219.52 66.73,219.19 67.79,218.86 68.87,218.53 69.99,218.2 71.12,217.88 72.29,217.56 73.48,217.23 74.7,216.91 75.95,216.58 77.23,216.25 78.54,215.92 79.88,215.58 81.25,215.23 82.65,214.88 84.08,214.52 85.55,214.16 87.06,213.78 88.59,213.4 90.17,213.01 91.78,212.61 93.43,212.2 95.12,211.79 96.85,211.37 98.61,210.94 100.42,210.51 102.28,210.07 104.17,209.62 106.11,209.18 108.1,208.72" fill="none" stroke="#3585c5" stroke-width="0.95" stroke-linejoin="round"/>
<polyline points="23.66,307.02 23.72,305.8 23.77,304.55 23.82,303.29 23.88,302 23.93,300.7 23.99,299.38 24.05,298.04 24.11,296.69 24.17,295.32 24.23,293.94 24.29,292.54 24.36,291.13 24.43,289.71 24.5,288.27 24.57,286.82 24.64,285.32 24.71,283.77 24.79,282.2 24.86,280.6 24.94,279 25.02,277.41 25.11,275.83 25.19,274.28 25.28,272.78 25.37,271.3 25.46,269.83 25.55,268.37 25.65,266.92 25.74,265.49 25.84,264.08 25.94,262.7 26.05,261.35 26.16,260.03 26.26,258.76 26.38,257.52 26.49,256.3 26.61,255.1 26.73,253.92 26.85,252.77 26.98,251.63 27.1,250.51 27.24,249.41 27.37,248.32 27.51,247.26 27.65,246.22 27.79,245.19 27.94,244.18 28.09,243.19 28.25,242.2 28.41,241.21 28.57,240.23 28.73,239.27 28.9,238.32 29.08,237.4 29.26,236.5 29.44,235.63 29.62,234.8 29.81,234.01 30.01,233.26 30.21,232.56 30.41,231.91 30.62,231.28 30.84,230.69 31.06,230.12 31.28,229.57 31.51,229.04 31.75,228.52 31.99,228 32.23,227.49 32.48,226.97 32.74,226.47 33.01,225.97 33.28,225.47 33.55,224.99 33.84,224.51 34.12,224.04 34.42,223.57 34.72,223.11 35.03,222.65 35.35,222.2 35.68,221.76 36.01,221.32 36.35,220.88 36.7,220.45 37.06,220.02 37.42,219.6 37.8,219.18 38.18,218.77 38.57,218.37 38.97,217.97 39.38,217.57 39.8,217.17 40.23,216.78 40.67,216.39 41.12,216.01 41.58,215.62 42.05,215.24 42.53,214.86 43.03,214.48 43.53,214.1 44.05,213.72 44.58,213.35 45.12,212.97 45.67,212.6 46.24,212.22 46.82,211.85 47.42,211.49 48.02,211.12 48.65,210.76 49.28,210.4 49.94,210.04 50.6,209.68 51.29,209.33 51.99,208.98 52.7,208.63 53.43,208.29 54.18,207.95 54.95,207.61 55.74,207.27 56.54,206.92 57.36,206.58 58.2,206.25 59.07,205.91 59.95,205.59 60.85,205.27 61.77,204.96 62.72,204.67 63.69,204.38 64.68,204.11 65.69,203.86 66.73,203.62 67.79,203.4 68.87,203.18 69.99,202.98 71.12,202.78 72.29,202.59 73.48,202.4 74.7,202.21 75.95,202.02 77.23,201.83 78.54,201.63 79.88,201.43 81.25,201.21 82.65,200.99 84.08,200.75 85.55,200.5 87.06,200.23 88.59,199.92 90.17,199.56 91.78,199.2 93.43,198.83 95.12,198.49 96.85,198.19 98.61,197.93 100.42,197.69 102.28,197.46 104.17,197.24 106.11,197.05 108.1,196.88" fill="none" stroke="#ff9c3e" stroke-width="0.95" stroke-linejoin="round"/>
<polyline points="23.66,304.76 23.72,303.79 23.77,302.78 23.82,301.74 23.88,300.66 23.93,299.56 23.99,298.42 24.05,297.26 24.11,296.07 24.17,294.85 24.23,293.61 24.29,292.35 24.36,291.07 24.43,289.77 24.5,288.44 24.57,287.09 24.64,285.61 24.71,284.03 24.79,282.38 24.86,280.71 24.94,279.04 25.02,277.42 25.11,275.87 25.19,274.45 25.28,273.19 25.37,272.07 25.46,271.02 25.55,270.04 25.65,269.1 25.74,268.2 25.84,267.34 25.94,266.5 26.05,265.66 26.16,264.82 26.26,263.98 26.38,263.11 26.49,262.25 26.61,261.37 26.73,260.5 26.85,259.64 26.98,258.79 27.1,257.95 27.24,257.14 27.37,256.35 27.51,255.59 27.65,254.87 27.79,254.19 27.94,253.56 28.09,252.97 28.25,252.42 28.41,251.91 28.57,251.43 28.73,250.97 28.9,250.53 29.08,250.09 29.26,249.66 29.44,249.22 29.62,248.78 29.81,248.32 30.01,247.84 30.21,247.33 30.41,246.78 30.62,246.2 30.84,245.61 31.06,245 31.28,244.4 31.51,243.81 31.75,243.23 31.99,242.69 32.23,242.19 32.48,241.74 32.74,241.3 33.01,240.87 33.28,240.46 33.55,240.06 33.84,239.68 34.12,239.3 34.42,238.93 34.72,238.58 35.03,238.23 35.35,237.88 35.68,237.54 36.01,237.21 36.35,236.87 36.7,236.54 37.06,236.22 37.42,235.9 37.8,235.59 38.18,235.29 38.57,234.99 38.97,234.69 39.38,234.4 39.8,234.11 40.23,233.83 40.67,233.55 41.12,233.26 41.58,232.98 42.05,232.7 42.53,232.41 43.03,232.13 43.53,231.84 44.05,231.55 44.58,231.27 45.12,230.99 45.67,230.71 46.24,230.44 46.82,230.16 47.42,229.89 48.02,229.61 48.65,229.34 49.28,229.06 49.94,228.77 50.6,228.49 51.29,228.2 51.99,227.9 52.7,227.6 53.43,227.3 54.18,226.98 54.95,226.66 55.74,226.32 56.54,225.98 57.36,225.63 58.2,225.27 59.07,224.91 59.95,224.55 60.85,224.19 61.77,223.84 62.72,223.49 63.69,223.14 64.68,222.81 65.69,222.48 66.73,222.16 67.79,221.85 68.87,221.54 69.99,221.24 71.12,220.94 72.29,220.64 73.48,220.34 74.7,220.04 75.95,219.75 77.23,219.44 78.54,219.14 79.88,218.83 81.25,218.52 82.65,218.2 84.08,217.87 85.55,217.54 87.06,217.19 88.59,216.84 90.17,216.48 91.78,216.12 93.43,215.74 95.12,215.37 96.85,214.98 98.61,214.59 100.42,214.2 102.28,213.8 104.17,213.39 106.11,212.99 108.1,212.57" fill="none" stroke="#55bb55" stroke-width="0.95" stroke-linejoin="round"/>
<polyline points="23.66,307.02 23.72,305.88 23.77,304.72 23.82,303.52 23.88,302.3 23.93,301.06 23.99,299.8 24.05,298.51 24.11,297.2 24.17,295.87 24.23,294.52 24.29,293.15 24.36,291.76 24.43,290.36 24.5,288.94 24.57,287.5 24.64,285.97 24.71,284.37 24.79,282.71 24.86,281.04 24.94,279.36 25.02,277.72 25.11,276.13 25.19,274.62 25.28,273.21 25.37,271.89 25.46,270.61 25.55,269.36 25.65,268.14 25.74,266.96 25.84,265.83 25.94,264.73 26.05,263.68 26.16,262.67 26.26,261.71 26.38,260.8 26.49,259.95 26.61,259.15 26.73,258.38 26.85,257.64 26.98,256.92 27.1,256.21 27.24,255.49 27.37,254.77 27.51,254.03 27.65,253.27 27.79,252.47 27.94,251.62 28.09,250.71 28.25,249.73 28.41,248.69 28.57,247.6 28.73,246.47 28.9,245.34 29.08,244.2 29.26,243.07 29.44,241.98 29.62,240.93 29.81,239.94 30.01,239.03 30.21,238.2 30.41,237.43 30.62,236.71 30.84,236.03 31.06,235.37 31.28,234.73 31.51,234.11 31.75,233.5 31.99,232.89 32.23,232.28 32.48,231.66 32.74,231.04 33.01,230.42 33.28,229.79 33.55,229.17 33.84,228.56 34.12,227.96 34.42,227.37 34.72,226.79 35.03,226.23 35.35,225.68 35.68,225.16 36.01,224.65 36.35,224.18 36.7,223.72 37.06,223.28 37.42,222.85 37.8,222.44 38.18,222.03 38.57,221.64 38.97,221.26 39.38,220.88 39.8,220.51 40.23,220.14 40.67,219.77 41.12,219.4 41.58,219.03 42.05,218.65 42.53,218.27 43.03,217.88 43.53,217.49 44.05,217.08 44.58,216.68 45.12,216.27 45.67,215.86 46.24,215.45 46.82,215.04 47.42,214.64 48.02,214.23 48.65,213.82 49.28,213.42 49.94,213.02 50.6,212.63 51.29,212.25 51.99,211.87 52.7,211.5 53.43,211.13 54.18,210.78 54.95,210.43 55.74,210.09 56.54,209.74 57.36,209.41 58.2,209.08 59.07,208.75 59.95,208.43 60.85,208.12 61.77,207.82 62.72,207.52 63.69,207.23 64.68,206.95 65.69,206.67 66.73,206.41 67.79,206.15 68.87,205.9 69.99,205.66 71.12,205.42 72.29,205.18 73.48,204.95 74.7,204.72 75.95,204.5 77.23,204.27 78.54,204.04 79.88,203.81 81.25,203.58 82.65,203.35 84.08,203.11 85.55,202.87 87.06,202.62 88.59,202.37 90.17,202.12 91.78,201.87 93.43,201.62 95.12,201.36 96.85,201.11 98.61,200.85 100.42,200.59 102.28,200.33 104.17,200.07 106.11,199.81 108.1,199.55" fill="none" stroke="#e4474c" stroke-width="0.95" stroke-linejoin="round"/>
<polyline points="23.66,307.02 23.72,305.81 23.77,304.58 23.82,303.32 23.88,302.05 23.93,300.76 23.99,299.46 24.05,298.14 24.11,296.8 24.17,295.45 24.23,294.08 24.29,292.7 24.36,291.31 24.43,289.91 24.5,288.49 24.57,287.06 24.64,285.57 24.71,284.05 24.79,282.5 24.86,280.93 24.94,279.35 25.02,277.78 25.11,276.23 25.19,274.71 25.28,273.23 25.37,271.78 25.46,270.33 25.55,268.9 25.65,267.47 25.74,266.07 25.84,264.69 25.94,263.33 26.05,262 26.16,260.7 26.26,259.44 26.38,258.21 26.49,257 26.61,255.8 26.73,254.62 26.85,253.46 26.98,252.32 27.1,251.2 27.24,250.1 27.37,249.01 27.51,247.95 27.65,246.9 27.79,245.87 27.94,244.86 28.09,243.87 28.25,242.88 28.41,241.89 28.57,240.91 28.73,239.95 28.9,239 29.08,238.08 29.26,237.18 29.44,236.31 29.62,235.48 29.81,234.69 30.01,233.94 30.21,233.24 30.41,232.59 30.62,231.97 30.84,231.37 31.06,230.81 31.28,230.26 31.51,229.73 31.75,229.21 31.99,228.69 32.23,228.17 32.48,227.65 32.74,227.13 33.01,226.61 33.28,226.11 33.55,225.6 33.84,225.1 34.12,224.61 34.42,224.12 34.72,223.64 35.03,223.17 35.35,222.7 35.68,222.24 36.01,221.79 36.35,221.34 36.7,220.9 37.06,220.47 37.42,220.04 37.8,219.63 38.18,219.21 38.57,218.81 38.97,218.41 39.38,218.01 39.8,217.62 40.23,217.23 40.67,216.85 41.12,216.46 41.58,216.08 42.05,215.7 42.53,215.32 43.03,214.93 43.53,214.55 44.05,214.17 44.58,213.79 45.12,213.4 45.67,213.02 46.24,212.64 46.82,212.26 47.42,211.89 48.02,211.51 48.65,211.14 49.28,210.77 49.94,210.41 50.6,210.05 51.29,209.69 51.99,209.33 52.7,208.98 53.43,208.63 54.18,208.29 54.95,207.95 55.74,207.6 56.54,207.26 57.36,206.92 58.2,206.58 59.07,206.25 59.95,205.92 60.85,205.61 61.77,205.3 62.72,205 63.69,204.72 64.68,204.45 65.69,204.2 66.73,203.96 67.79,203.73 68.87,203.52 69.99,203.31 71.12,203.11 72.29,202.92 73.48,202.73 74.7,202.54 75.95,202.35 77.23,202.15 78.54,201.96 79.88,201.75 81.25,201.54 82.65,201.32 84.08,201.09 85.55,200.84 87.06,200.57 88.59,200.27 90.17,199.94 91.78,199.59 93.43,199.24 95.12,198.92 96.85,198.62 98.61,198.36 100.42,198.11 102.28,197.88 104.17,197.66 106.11,197.45 108.1,197.26" fill="none" stroke="#a982da" stroke-width="0.95" stroke-linejoin="round"/>
<path d="M21.5 192V311.5H112.3" fill="none" stroke="#262626" stroke-width="0.6"/>
<path d="M21.5 295.7h-1.5" stroke="#262626" stroke-width="0.8"/>
<text x="18.6" y="297.2" text-anchor="end" class="tk">0.3</text>
<path d="M21.5 273.05h-1.5" stroke="#262626" stroke-width="0.8"/>
<text x="18.6" y="274.55" text-anchor="end" class="tk">0.4</text>
<path d="M21.5 250.4h-1.5" stroke="#262626" stroke-width="0.8"/>
<text x="18.6" y="251.9" text-anchor="end" class="tk">0.5</text>
<path d="M21.5 227.75h-1.5" stroke="#262626" stroke-width="0.8"/>
<text x="18.6" y="229.25" text-anchor="end" class="tk">0.6</text>
<path d="M21.5 205.1h-1.5" stroke="#262626" stroke-width="0.8"/>
<text x="18.6" y="206.6" text-anchor="end" class="tk">0.7</text>
<path d="M21.5 311.5v1.5" stroke="#262626" stroke-width="0.8"/>
<text x="21.5" y="317.9" text-anchor="middle" class="tk">0</text>
<path d="M43.15 311.5v1.5" stroke="#262626" stroke-width="0.8"/>
<text x="43.15" y="317.9" text-anchor="middle" class="tk">10</text>
<path d="M64.8 311.5v1.5" stroke="#262626" stroke-width="0.8"/>
<text x="64.8" y="317.9" text-anchor="middle" class="tk">20</text>
<path d="M86.45 311.5v1.5" stroke="#262626" stroke-width="0.8"/>
<text x="86.45" y="317.9" text-anchor="middle" class="tk">30</text>
<path d="M108.1 311.5v1.5" stroke="#262626" stroke-width="0.8"/>
<text x="108.1" y="317.9" text-anchor="middle" class="tk">40</text>
<text x="65.4" y="326.2" text-anchor="middle" class="lab" textLength="21.3" lengthAdjust="spacingAndGlyphs">Epoch</text>
<text transform="translate(9.8 252.65) rotate(-90)" text-anchor="middle" class="lab" textLength="33.6" lengthAdjust="spacingAndGlyphs">Train_acc</text>
<rect x="96.8" y="196.3" width="11.7" height="2" fill="#f4b8e8" fill-opacity="0.25" stroke="#8a1aa0" stroke-width="0.95"/>
<path d="M108.5 196.3L126.5 238.5M108.5 198.3L126.5 264.5" stroke="#1c1c1c" stroke-width="0.8" fill="none"/>
<rect x="126.5" y="238.5" width="87" height="26" fill="#fff"/>
<path d="M143.5 238.5V264.5" stroke="#bcbcbc" stroke-width="0.65"/>
<path d="M161.5 238.5V264.5" stroke="#bcbcbc" stroke-width="0.65"/>
<path d="M178.5 238.5V264.5" stroke="#bcbcbc" stroke-width="0.65"/>
<path d="M196.5 238.5V264.5" stroke="#bcbcbc" stroke-width="0.65"/>
<path d="M126.5 246.5H213.5" stroke="#bcbcbc" stroke-width="0.65"/>
<path d="M126.5 259.5H213.5" stroke="#bcbcbc" stroke-width="0.65"/>
<clipPath id="clipc"><rect x="126.5" y="238.5" width="87" height="26"/></clipPath>
<polyline clip-path="url(#clipc)" points="126.5,257.4 143.9,254.52 161.3,251.64 178.7,248.76 196.1,245.88 213.5,242.99" fill="none" stroke="#ff9c3e" stroke-width="0.95" stroke-linejoin="round"/>
<polyline clip-path="url(#clipc)" points="126.5,262.38 143.9,259.5 161.3,256.36 178.7,253.47 196.1,250.33 213.5,247.45" fill="none" stroke="#a982da" stroke-width="0.95" stroke-linejoin="round"/>
<rect x="126.5" y="238.5" width="87" height="26" fill="none" stroke="#2e2e2e" stroke-width="0.55"/>
<path d="M126.5 246.4h-1.2" stroke="#262626" stroke-width="0.5"/>
<text x="123.9" y="247.7" text-anchor="end" class="tk ti">0.735</text>
<path d="M126.5 259.5h-1.2" stroke="#262626" stroke-width="0.5"/>
<text x="123.9" y="260.8" text-anchor="end" class="tk ti">0.730</text>
<path d="M126.5 264.5v1.2" stroke="#262626" stroke-width="0.5"/>
<text x="126.5" y="270.8" text-anchor="middle" class="tk">35</text>
<path d="M143.9 264.5v1.2" stroke="#262626" stroke-width="0.5"/>
<text x="143.9" y="270.8" text-anchor="middle" class="tk">36</text>
<path d="M161.3 264.5v1.2" stroke="#262626" stroke-width="0.5"/>
<text x="161.3" y="270.8" text-anchor="middle" class="tk">37</text>
<path d="M178.7 264.5v1.2" stroke="#262626" stroke-width="0.5"/>
<text x="178.7" y="270.8" text-anchor="middle" class="tk">38</text>
<path d="M196.1 264.5v1.2" stroke="#262626" stroke-width="0.5"/>
<text x="196.1" y="270.8" text-anchor="middle" class="tk">39</text>
<path d="M213.5 264.5v1.2" stroke="#262626" stroke-width="0.5"/>
<text x="213.5" y="270.8" text-anchor="middle" class="tk">40</text>
<path d="M136.7 182.8H150.8" stroke="#3585c5" stroke-width="0.95"/>
<text x="155.5" y="184.9" class="lg" textLength="12.4" lengthAdjust="spacingAndGlyphs">Base</text>
<path d="M136.7 192.5H150.8" stroke="#ff9c3e" stroke-width="0.95"/>
<text x="155.5" y="194.6" class="lg" textLength="24" lengthAdjust="spacingAndGlyphs">Enc_Imp</text>
<path d="M136.7 202.2H150.8" stroke="#55bb55" stroke-width="0.95"/>
<text x="155.5" y="204.3" class="lg" textLength="42.4" lengthAdjust="spacingAndGlyphs">Dec_Imp + Syn</text>
<path d="M136.7 211.6H150.8" stroke="#e4474c" stroke-width="0.95"/>
<text x="155.5" y="213.7" class="lg" textLength="38.3" lengthAdjust="spacingAndGlyphs">Enc_Dec_Imp</text>
<path d="M136.7 221.6H150.8" stroke="#a982da" stroke-width="0.95"/>
<text x="155.5" y="223.7" class="lg" textLength="56.5" lengthAdjust="spacingAndGlyphs">Enc_Dec_Imp + Syn</text>
<text x="103.55" y="345.9" class="cap" textLength="13.1" lengthAdjust="spacingAndGlyphs">(<tspan font-weight="bold">c</tspan>)</text>
</g>
<g>
<polyline points="356.63,303.35 356.68,302.18 356.73,301.03 356.78,299.88 356.83,298.75 356.89,297.63 356.95,296.52 357,295.42 357.06,294.34 357.12,293.27 357.18,292.21 357.25,291.16 357.31,290.13 357.38,289.11 357.44,288.1 357.51,287.11 357.58,286.11 357.66,285.12 357.73,284.13 357.81,283.15 357.88,282.18 357.96,281.22 358.04,280.27 358.13,279.34 358.21,278.43 358.3,277.54 358.39,276.67 358.48,275.84 358.57,275.03 358.67,274.25 358.77,273.51 358.87,272.8 358.97,272.12 359.07,271.46 359.18,270.83 359.29,270.21 359.4,269.61 359.52,269.02 359.64,268.44 359.76,267.88 359.88,267.31 360.01,266.76 360.14,266.2 360.27,265.64 360.4,265.07 360.54,264.5 360.69,263.91 360.83,263.31 360.98,262.71 361.13,262.1 361.29,261.5 361.45,260.89 361.61,260.29 361.78,259.68 361.95,259.07 362.12,258.45 362.3,257.82 362.48,257.19 362.67,256.54 362.86,255.87 363.06,255.16 363.26,254.41 363.47,253.63 363.68,252.84 363.89,252.05 364.11,251.28 364.34,250.53 364.57,249.83 364.8,249.18 365.05,248.6 365.29,248.09 365.55,247.61 365.81,247.17 366.07,246.75 366.34,246.35 366.62,245.97 366.91,245.6 367.2,245.24 367.5,244.89 367.8,244.55 368.11,244.2 368.43,243.85 368.76,243.5 369.09,243.13 369.44,242.75 369.79,242.36 370.15,241.98 370.51,241.59 370.89,241.2 371.27,240.81 371.67,240.43 372.07,240.04 372.48,239.65 372.9,239.26 373.34,238.87 373.78,238.49 374.23,238.1 374.69,237.71 375.17,237.33 375.65,236.94 376.15,236.56 376.66,236.18 377.18,235.79 377.71,235.41 378.26,235.03 378.81,234.64 379.38,234.26 379.97,233.88 380.57,233.5 381.18,233.12 381.8,232.73 382.44,232.35 383.1,231.98 383.77,231.6 384.46,231.22 385.16,230.85 385.88,230.47 386.62,230.1 387.37,229.73 388.14,229.37 388.93,229.01 389.74,228.66 390.57,228.31 391.41,227.95 392.28,227.59 393.17,227.23 394.08,226.86 395,226.49 395.96,226.1 396.93,225.7 397.92,225.29 398.94,224.86 399.99,224.42 401.05,223.98 402.15,223.52 403.27,223.06 404.41,222.59 405.58,222.11 406.78,221.63 408.01,221.15 409.26,220.64 410.55,220.1 411.86,219.56 413.21,219.01 414.59,218.48 416,217.97 417.44,217.51 418.92,217.09 420.43,216.73 421.98,216.4 423.56,216.08 425.18,215.77 426.84,215.44 428.54,215.07 430.28,214.66 432.06,214.22 433.88,213.74 435.74,213.24 437.65,212.72 439.6,212.17" fill="none" stroke="#3585c5" stroke-width="0.95" stroke-linejoin="round"/>
<polyline points="356.63,303.35 356.68,301.79 356.73,300.22 356.78,298.65 356.83,297.09 356.89,295.52 356.95,293.94 357,292.37 357.06,290.8 357.12,289.23 357.18,287.65 357.25,286.07 357.31,284.5 357.38,282.92 357.44,281.34 357.51,279.76 357.58,278.18 357.66,276.59 357.73,275.01 357.81,273.42 357.88,271.78 357.96,270.07 358.04,268.31 358.13,266.53 358.21,264.77 358.3,263.04 358.39,261.38 358.48,259.82 358.57,258.38 358.67,257.09 358.77,255.97 358.87,254.97 358.97,254.02 359.07,253.13 359.18,252.29 359.29,251.48 359.4,250.72 359.52,249.98 359.64,249.28 359.76,248.6 359.88,247.94 360.01,247.28 360.14,246.64 360.27,246.01 360.4,245.37 360.54,244.72 360.69,244.06 360.83,243.39 360.98,242.7 361.13,242.02 361.29,241.33 361.45,240.66 361.61,239.98 361.78,239.32 361.95,238.66 362.12,238.01 362.3,237.38 362.48,236.75 362.67,236.14 362.86,235.54 363.06,234.96 363.26,234.39 363.47,233.84 363.68,233.3 363.89,232.77 364.11,232.25 364.34,231.74 364.57,231.23 364.8,230.72 365.05,230.21 365.29,229.71 365.55,229.2 365.81,228.7 366.07,228.2 366.34,227.7 366.62,227.2 366.91,226.71 367.2,226.22 367.5,225.74 367.8,225.25 368.11,224.78 368.43,224.3 368.76,223.83 369.09,223.36 369.44,222.9 369.79,222.43 370.15,221.97 370.51,221.5 370.89,221.04 371.27,220.57 371.67,220.11 372.07,219.66 372.48,219.21 372.9,218.76 373.34,218.32 373.78,217.9 374.23,217.48 374.69,217.07 375.17,216.67 375.65,216.29 376.15,215.92 376.66,215.56 377.18,215.22 377.71,214.88 378.26,214.54 378.81,214.22 379.38,213.9 379.97,213.58 380.57,213.27 381.18,212.96 381.8,212.66 382.44,212.36 383.1,212.05 383.77,211.75 384.46,211.44 385.16,211.14 385.88,210.83 386.62,210.51 387.37,210.19 388.14,209.87 388.93,209.54 389.74,209.21 390.57,208.88 391.41,208.56 392.28,208.24 393.17,207.92 394.08,207.62 395,207.33 395.96,207.05 396.93,206.78 397.92,206.53 398.94,206.3 399.99,206.09 401.05,205.88 402.15,205.67 403.27,205.47 404.41,205.27 405.58,205.05 406.78,204.83 408.01,204.59 409.26,204.33 410.55,204.06 411.86,203.78 413.21,203.49 414.59,203.2 416,202.92 417.44,202.64 418.92,202.37 420.43,202.06 421.98,201.73 423.56,201.41 425.18,201.12 426.84,200.9 428.54,200.78 430.28,200.76 432.06,200.63 433.88,200.21 435.74,199.74 437.65,199.51 439.6,199.54" fill="none" stroke="#ff9c3e" stroke-width="0.95" stroke-linejoin="round"/>
<polyline points="356.63,304.05 356.68,302.77 356.73,301.51 356.78,300.27 356.83,299.04 356.89,297.84 356.95,296.66 357,295.49 357.06,294.36 357.12,293.24 357.18,292.15 357.25,291.09 357.31,290.06 357.38,289.05 357.44,288.08 357.51,287.13 357.58,286.21 357.66,285.3 357.73,284.4 357.81,283.52 357.88,282.66 357.96,281.82 358.04,280.99 358.13,280.18 358.21,279.38 358.3,278.6 358.39,277.84 358.48,277.09 358.57,276.36 358.67,275.64 358.77,274.94 358.87,274.26 358.97,273.59 359.07,272.93 359.18,272.3 359.29,271.69 359.4,271.09 359.52,270.51 359.64,269.94 359.76,269.37 359.88,268.82 360.01,268.28 360.14,267.74 360.27,267.2 360.4,266.66 360.54,266.13 360.69,265.59 360.83,265.04 360.98,264.5 361.13,263.97 361.29,263.45 361.45,262.95 361.61,262.45 361.78,261.96 361.95,261.46 362.12,260.97 362.3,260.48 362.48,259.97 362.67,259.46 362.86,258.93 363.06,258.39 363.26,257.83 363.47,257.25 363.68,256.64 363.89,256.01 364.11,255.28 364.34,254.48 364.57,253.65 364.8,252.85 365.05,252.13 365.29,251.53 365.55,250.97 365.81,250.44 366.07,249.94 366.34,249.46 366.62,249 366.91,248.55 367.2,248.12 367.5,247.7 367.8,247.28 368.11,246.87 368.43,246.46 368.76,246.04 369.09,245.62 369.44,245.2 369.79,244.76 370.15,244.32 370.51,243.88 370.89,243.45 371.27,243.01 371.67,242.58 372.07,242.15 372.48,241.73 372.9,241.31 373.34,240.9 373.78,240.5 374.23,240.12 374.69,239.74 375.17,239.38 375.65,239.03 376.15,238.7 376.66,238.39 377.18,238.08 377.71,237.79 378.26,237.5 378.81,237.23 379.38,236.95 379.97,236.69 380.57,236.43 381.18,236.17 381.8,235.9 382.44,235.64 383.1,235.38 383.77,235.11 384.46,234.84 385.16,234.56 385.88,234.27 386.62,233.97 387.37,233.67 388.14,233.37 388.93,233.07 389.74,232.76 390.57,232.46 391.41,232.15 392.28,231.83 393.17,231.5 394.08,231.16 395,230.81 395.96,230.45 396.93,230.07 397.92,229.67 398.94,229.23 399.99,228.76 401.05,228.27 402.15,227.77 403.27,227.26 404.41,226.76 405.58,226.27 406.78,225.8 408.01,225.36 409.26,224.94 410.55,224.53 411.86,224.12 413.21,223.72 414.59,223.33 416,222.94 417.44,222.56 418.92,222.17 420.43,221.8 421.98,221.43 423.56,221.06 425.18,220.7 426.84,220.33 428.54,219.97 430.28,219.59 432.06,219.22 433.88,218.84 435.74,218.46 437.65,218.09 439.6,217.7" fill="none" stroke="#55bb55" stroke-width="0.95" stroke-linejoin="round"/>
<polyline points="356.63,303.35 356.68,302.37 356.73,301.38 356.78,300.36 356.83,299.33 356.89,298.29 356.95,297.22 357,296.14 357.06,295.05 357.12,293.94 357.18,292.82 357.25,291.68 357.31,290.53 357.38,289.37 357.44,288.19 357.51,287 357.58,285.76 357.66,284.46 357.73,283.14 357.81,281.79 357.88,280.43 357.96,279.08 358.04,277.74 358.13,276.44 358.21,275.18 358.3,273.99 358.39,272.84 358.48,271.69 358.57,270.52 358.67,269.36 358.77,268.21 358.87,267.06 358.97,265.93 359.07,264.81 359.18,263.73 359.29,262.67 359.4,261.65 359.52,260.68 359.64,259.75 359.76,258.87 359.88,258.05 360.01,257.29 360.14,256.6 360.27,255.99 360.4,255.48 360.54,255.05 360.69,254.64 360.83,254.18 360.98,253.65 361.13,253.07 361.29,252.46 361.45,251.82 361.61,251.16 361.78,250.47 361.95,249.77 362.12,249.06 362.3,248.33 362.48,247.6 362.67,246.87 362.86,246.14 363.06,245.42 363.26,244.68 363.47,243.91 363.68,243.12 363.89,242.32 364.11,241.53 364.34,240.74 364.57,239.97 364.8,239.22 365.05,238.51 365.29,237.82 365.55,237.16 365.81,236.5 366.07,235.85 366.34,235.21 366.62,234.58 366.91,233.96 367.2,233.36 367.5,232.76 367.8,232.18 368.11,231.61 368.43,231.04 368.76,230.5 369.09,229.96 369.44,229.43 369.79,228.92 370.15,228.41 370.51,227.91 370.89,227.42 371.27,226.93 371.67,226.45 372.07,225.99 372.48,225.53 372.9,225.08 373.34,224.64 373.78,224.21 374.23,223.79 374.69,223.38 375.17,222.98 375.65,222.59 376.15,222.22 376.66,221.86 377.18,221.5 377.71,221.16 378.26,220.83 378.81,220.5 379.38,220.18 379.97,219.87 380.57,219.56 381.18,219.25 381.8,218.95 382.44,218.65 383.1,218.35 383.77,218.05 384.46,217.74 385.16,217.44 385.88,217.13 386.62,216.81 387.37,216.49 388.14,216.17 388.93,215.84 389.74,215.51 390.57,215.18 391.41,214.86 392.28,214.54 393.17,214.22 394.08,213.92 395,213.63 395.96,213.35 396.93,213.08 397.92,212.83 398.94,212.6 399.99,212.38 401.05,212.17 402.15,211.96 403.27,211.75 404.41,211.55 405.58,211.34 406.78,211.12 408.01,210.89 409.26,210.65 410.55,210.41 411.86,210.16 413.21,209.91 414.59,209.66 416,209.42 417.44,209.17 418.92,208.93 420.43,208.69 421.98,208.45 423.56,208.22 425.18,207.98 426.84,207.75 428.54,207.51 430.28,207.27 432.06,207.03 433.88,206.78 435.74,206.54 437.65,206.3 439.6,206.05" fill="none" stroke="#e4474c" stroke-width="0.95" stroke-linejoin="round"/>
<polyline points="356.63,303.35 356.68,301.67 356.73,300 356.78,298.35 356.83,296.71 356.89,295.08 356.95,293.46 357,291.85 357.06,290.26 357.12,288.67 357.18,287.1 357.25,285.54 357.31,283.99 357.38,282.45 357.44,280.92 357.51,279.4 357.58,277.9 357.66,276.4 357.73,274.91 357.81,273.44 357.88,271.95 357.96,270.44 358.04,268.92 358.13,267.4 358.21,265.9 358.3,264.42 358.39,262.98 358.48,261.59 358.57,260.26 358.67,259 358.77,257.82 358.87,256.74 358.97,255.72 359.07,254.75 359.18,253.81 359.29,252.91 359.4,252.05 359.52,251.21 359.64,250.39 359.76,249.6 359.88,248.83 360.01,248.08 360.14,247.34 360.27,246.61 360.4,245.89 360.54,245.18 360.69,244.47 360.83,243.75 360.98,243.04 361.13,242.33 361.29,241.64 361.45,240.96 361.61,240.28 361.78,239.62 361.95,238.97 362.12,238.33 362.3,237.71 362.48,237.09 362.67,236.48 362.86,235.89 363.06,235.31 363.26,234.74 363.47,234.19 363.68,233.65 363.89,233.12 364.11,232.6 364.34,232.09 364.57,231.58 364.8,231.07 365.05,230.56 365.29,230.06 365.55,229.55 365.81,229.05 366.07,228.55 366.34,228.06 366.62,227.56 366.91,227.07 367.2,226.58 367.5,226.1 367.8,225.62 368.11,225.14 368.43,224.66 368.76,224.19 369.09,223.72 369.44,223.25 369.79,222.77 370.15,222.3 370.51,221.82 370.89,221.34 371.27,220.86 371.67,220.38 372.07,219.91 372.48,219.44 372.9,218.98 373.34,218.53 373.78,218.09 374.23,217.66 374.69,217.25 375.17,216.85 375.65,216.47 376.15,216.1 376.66,215.75 377.18,215.41 377.71,215.07 378.26,214.75 378.81,214.44 379.38,214.13 379.97,213.83 380.57,213.53 381.18,213.24 381.8,212.94 382.44,212.65 383.1,212.36 383.77,212.07 384.46,211.77 385.16,211.48 385.88,211.17 386.62,210.86 387.37,210.55 388.14,210.22 388.93,209.9 389.74,209.57 390.57,209.24 391.41,208.91 392.28,208.59 393.17,208.28 394.08,207.97 395,207.68 395.96,207.4 396.93,207.13 397.92,206.88 398.94,206.65 399.99,206.43 401.05,206.22 402.15,206.02 403.27,205.82 404.41,205.61 405.58,205.4 406.78,205.17 408.01,204.94 409.26,204.68 410.55,204.41 411.86,204.13 413.21,203.85 414.59,203.58 416,203.3 417.44,203.05 418.92,202.8 420.43,202.57 421.98,202.33 423.56,202.1 425.18,201.88 426.84,201.69 428.54,201.51 430.28,201.38 432.06,201.16 433.88,200.95 435.74,200.85 437.65,200.64 439.6,200.4" fill="none" stroke="#a982da" stroke-width="0.95" stroke-linejoin="round"/>
<path d="M354.5 192V310.6H443.8" fill="none" stroke="#262626" stroke-width="0.6"/>
<path d="M354.5 308.6h-1.5" stroke="#262626" stroke-width="0.8"/>
<text x="351.6" y="310.1" text-anchor="end" class="tk">0.40</text>
<path d="M354.5 291.1h-1.5" stroke="#262626" stroke-width="0.8"/>
<text x="351.6" y="292.6" text-anchor="end" class="tk">0.45</text>
<path d="M354.5 273.6h-1.5" stroke="#262626" stroke-width="0.8"/>
<text x="351.6" y="275.1" text-anchor="end" class="tk">0.50</text>
<path d="M354.5 256.1h-1.5" stroke="#262626" stroke-width="0.8"/>
<text x="351.6" y="257.6" text-anchor="end" class="tk">0.55</text>
<path d="M354.5 238.6h-1.5" stroke="#262626" stroke-width="0.8"/>
<text x="351.6" y="240.1" text-anchor="end" class="tk">0.60</text>
<path d="M354.5 221.1h-1.5" stroke="#262626" stroke-width="0.8"/>
<text x="351.6" y="222.6" text-anchor="end" class="tk">0.65</text>
<path d="M354.5 203.6h-1.5" stroke="#262626" stroke-width="0.8"/>
<text x="351.6" y="205.1" text-anchor="end" class="tk">0.70</text>
<path d="M354.5 310.6v1.5" stroke="#262626" stroke-width="0.8"/>
<text x="354.5" y="317" text-anchor="middle" class="tk">0</text>
<path d="M375.77 310.6v1.5" stroke="#262626" stroke-width="0.8"/>
<text x="375.77" y="317" text-anchor="middle" class="tk">10</text>
<path d="M397.05 310.6v1.5" stroke="#262626" stroke-width="0.8"/>
<text x="397.05" y="317" text-anchor="middle" class="tk">20</text>
<path d="M418.32 310.6v1.5" stroke="#262626" stroke-width="0.8"/>
<text x="418.32" y="317" text-anchor="middle" class="tk">30</text>
<path d="M439.6 310.6v1.5" stroke="#262626" stroke-width="0.8"/>
<text x="439.6" y="317" text-anchor="middle" class="tk">40</text>
<text x="397.8" y="325.6" text-anchor="middle" class="lab" textLength="21.3" lengthAdjust="spacingAndGlyphs">Epoch</text>
<text transform="translate(339.7 251.1) rotate(-90)" text-anchor="middle" class="lab" textLength="33" lengthAdjust="spacingAndGlyphs">Valid_acc</text>
<rect x="428.9" y="198.5" width="11.2" height="3.4" fill="#f4b8e8" fill-opacity="0.25" stroke="#8a1aa0" stroke-width="0.95"/>
<path d="M440.1 198.5L458.3 238.5M440.1 201.9L458.3 264.5" stroke="#1c1c1c" stroke-width="0.8" fill="none"/>
<rect x="458.3" y="238.5" width="86.2" height="26" fill="#fff"/>
<path d="M475.5 238.5V264.5" stroke="#bcbcbc" stroke-width="0.65"/>
<path d="M492.5 238.5V264.5" stroke="#bcbcbc" stroke-width="0.65"/>
<path d="M510.5 238.5V264.5" stroke="#bcbcbc" stroke-width="0.65"/>
<path d="M527.5 238.5V264.5" stroke="#bcbcbc" stroke-width="0.65"/>
<path d="M458.3 238.5H544.5" stroke="#bcbcbc" stroke-width="0.65"/>
<path d="M458.3 251.5H544.5" stroke="#bcbcbc" stroke-width="0.65"/>
<path d="M458.3 264.5H544.5" stroke="#bcbcbc" stroke-width="0.65"/>
<clipPath id="clipd"><rect x="458.3" y="238.5" width="86.2" height="26"/></clipPath>
<polyline clip-path="url(#clipd)" points="458.3,256.39 475.54,256.21 492.78,253.48 510.02,249.32 527.26,246.98 544.5,247.24" fill="none" stroke="#ff9c3e" stroke-width="0.95" stroke-linejoin="round"/>
<polyline clip-path="url(#clipd)" points="458.3,261.59 475.54,260.4 492.78,258 510.02,257.2 527.26,255.56 544.5,253.61" fill="none" stroke="#a982da" stroke-width="0.95" stroke-linejoin="round"/>
<rect x="458.3" y="238.5" width="86.2" height="26" fill="none" stroke="#2e2e2e" stroke-width="0.55"/>
<path d="M458.3 238.4h-1.2" stroke="#262626" stroke-width="0.5"/>
<text x="455.7" y="239.7" text-anchor="end" class="tk ti">0.715</text>
<path d="M458.3 251.4h-1.2" stroke="#262626" stroke-width="0.5"/>
<text x="455.7" y="252.7" text-anchor="end" class="tk ti">0.710</text>
<path d="M458.3 264.5h-1.2" stroke="#262626" stroke-width="0.5"/>
<text x="455.7" y="265.8" text-anchor="end" class="tk ti">0.705</text>
<path d="M458.3 264.5v1.2" stroke="#262626" stroke-width="0.5"/>
<text x="458.3" y="270.3" text-anchor="middle" class="tk">35</text>
<path d="M475.54 264.5v1.2" stroke="#262626" stroke-width="0.5"/>
<text x="475.54" y="270.3" text-anchor="middle" class="tk">36</text>
<path d="M492.78 264.5v1.2" stroke="#262626" stroke-width="0.5"/>
<text x="492.78" y="270.3" text-anchor="middle" class="tk">37</text>
<path d="M510.02 264.5v1.2" stroke="#262626" stroke-width="0.5"/>
<text x="510.02" y="270.3" text-anchor="middle" class="tk">38</text>
<path d="M527.26 264.5v1.2" stroke="#262626" stroke-width="0.5"/>
<text x="527.26" y="270.3" text-anchor="middle" class="tk">39</text>
<path d="M544.5 264.5v1.2" stroke="#262626" stroke-width="0.5"/>
<text x="544.5" y="270.3" text-anchor="middle" class="tk">40</text>
<path d="M468.3 182.9H481.4" stroke="#3585c5" stroke-width="0.95"/>
<text x="486.8" y="185" class="lg" textLength="12.4" lengthAdjust="spacingAndGlyphs">Base</text>
<path d="M468.3 192.7H481.4" stroke="#ff9c3e" stroke-width="0.95"/>
<text x="486.8" y="194.8" class="lg" textLength="24" lengthAdjust="spacingAndGlyphs">Enc_Imp</text>
<path d="M468.3 202.3H481.4" stroke="#55bb55" stroke-width="0.95"/>
<text x="486.8" y="204.4" class="lg" textLength="42.4" lengthAdjust="spacingAndGlyphs">Dec_Imp + Syn</text>
<path d="M468.3 212H481.4" stroke="#e4474c" stroke-width="0.95"/>
<text x="486.8" y="214.1" class="lg" textLength="38.3" lengthAdjust="spacingAndGlyphs">Enc_Dec_Imp</text>
<path d="M468.3 221.6H481.4" stroke="#a982da" stroke-width="0.95"/>
<text x="486.8" y="223.7" class="lg" textLength="56.5" lengthAdjust="spacingAndGlyphs">Enc_Dec_Imp + Syn</text>
<text x="433.15" y="345.9" class="cap" textLength="15.3" lengthAdjust="spacingAndGlyphs">(<tspan font-weight="bold">d</tspan>)</text>
</g>
</svg>
</body>
</html>
